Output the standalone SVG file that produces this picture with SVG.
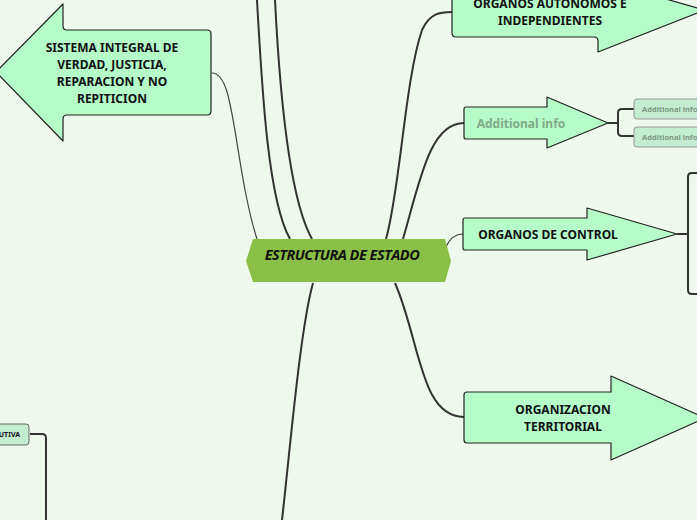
<svg xmlns="http://www.w3.org/2000/svg" width="697" height="520" viewBox="0 0 697 520">
<style>
.n{fill:#b5fcc8;stroke:#222;stroke-width:1.2;stroke-linejoin:round}
.t{font-family:"Noto Sans","Open Sans",sans-serif;font-weight:bold;font-size:12px;fill:#111;text-anchor:middle}
.c{fill:none;stroke:#333;stroke-width:2}
.c1{fill:none;stroke:#444;stroke-width:1.2}
.s{fill:#c4ecd0;stroke:#999;stroke-width:1}
.st{font-family:"Noto Sans",sans-serif;font-weight:bold;font-size:7.5px;fill:#7a9a84}
</style>
<rect width="697" height="520" fill="#eff8ec"/>
<g id="connectors">
<path class="c" d="M257,0 C262,90 268,200 290,239"/>
<path class="c" d="M275,0 C280,100 290,200 312,239"/>
<path class="c1" d="M212,73 C230,73 232,120 245,190 C250,215 254,230 257,239"/>
<path class="c" d="M386,239 C400,190 405,80 422,30 C430,13 440,12 452,12"/>
<path class="c" d="M403,239 C420,180 430,123 464,123"/>
<path class="c1" d="M446,247 C450,238 455,234 463,234"/>
<path class="c" d="M395,283 C420,340 420,417 464,417"/>
<path class="c" d="M313,283 C300,330 290,450 282,520"/>
<path class="c" d="M608,123 H618 M634,109 H622 Q618,109 618,113 V132 Q618,136 622,136 H634"/>
<path class="c" d="M677,234 H688 M697,173 H692 Q688,173 688,177 V290 Q688,294 692,294 H697"/>
<path class="c" d="M30,434 H42 Q46,434 46,438 V520"/>
</g>
<g id="center">
<polygon points="246,261 253,239 445,239 451,261 445,282 253,282" fill="#8bbf47"/>
<text x="342" y="260" font-family="'Open Sans','Noto Sans',sans-serif" font-style="italic" font-weight="bold" font-size="14.5" fill="#111" text-anchor="middle" letter-spacing="-0.5">ESTRUCTURA DE ESTADO</text>
</g>
<g id="sistema">
<path class="n" d="M211,34 V111 Q211,115 207,115 H67 Q63,115 63,119 V141 L-4,72 L63,4 V26 Q63,30 67,30 H207 Q211,30 211,34 Z"/>
<text class="t" x="112" y="52">SISTEMA INTEGRAL DE</text>
<text class="t" x="112" y="69">VERDAD, JUSTICIA,</text>
<text class="t" x="112" y="86">REPARACION Y NO</text>
<text class="t" x="112" y="103">REPITICION</text>
</g>
<g id="autonomos">
<path class="n" d="M452,-5 V33 Q452,37 456,37 H594 Q598,37 598,41 V52 L705,10 L598,-20 V-5 Z"/>
<text class="t" x="550" y="8">ORGANOS AUTONOMOS E</text>
<text class="t" x="550" y="25">INDEPENDIENTES</text>
</g>
<g id="additional">
<path class="n" d="M464,109 Q464,107 466,107 H547 V97 L608,123 L547,148 V139 H466 Q464,139 464,137 Z"/>
<text class="t" x="521" y="128" style="fill:#80a98b">Additional info</text>
</g>
<g id="add1"><rect class="s" x="634" y="99" width="70" height="20" rx="3"/><text class="st" x="642" y="112">Additional info</text></g>
<g id="add2"><rect class="s" x="634" y="127" width="70" height="20" rx="3"/><text class="st" x="642" y="140">Additional info</text></g>
<g id="control">
<path class="n" d="M463,220 Q463,218 465,218 H587 V208 L677,234 L587,260 V250 H465 Q463,250 463,248 Z"/>
<text class="t" x="548" y="239">ORGANOS DE CONTROL</text>
</g>
<g id="territorial">
<path class="n" d="M464,395 Q464,392 467,392 H611 V376 L705,418 L611,460 V443 H467 Q464,443 464,440 Z"/>
<text class="t" x="563" y="414">ORGANIZACION</text>
<text class="t" x="563" y="431">TERRITORIAL</text>
</g>
<g id="ejecutiva">
<rect class="s" x="-20" y="424" width="49" height="21" rx="3" style="stroke:#666"/>
<text x="20" y="437" font-family="Noto Sans,sans-serif" font-weight="bold" font-size="7" fill="#111" text-anchor="end">UTIVA</text>
</g>
</svg>
